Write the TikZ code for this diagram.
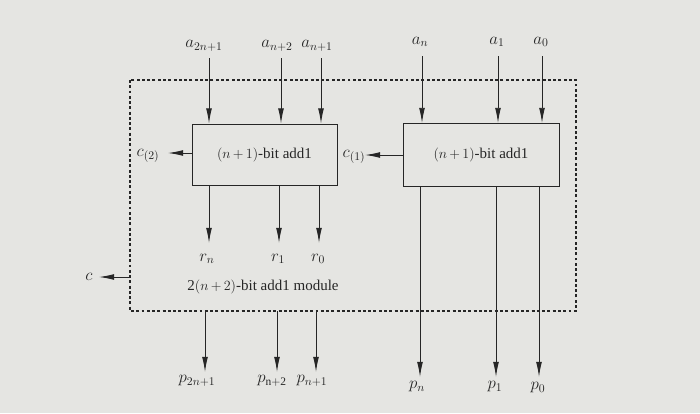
\documentclass[tikz,border=0pt]{standalone}
\usepackage{fontspec}
\setmainfont{Liberation Serif}
\usetikzlibrary{arrows.meta}
\definecolor{bg}{RGB}{229,229,226}
\definecolor{ink}{RGB}{38,38,38}
\tikzset{
  arr/.style={draw=ink, line width=0.8pt, -{Latex[length=13pt,width=5pt]}},
  addbox/.style={draw=ink, line width=0.8pt, minimum width=145*0.03cm, minimum height=61*0.03cm, inner sep=0pt},
  lbl/.style={text=ink, inner sep=1pt, font=\fontsize{14}{17}\selectfont},
  txt/.style={text=ink, inner sep=1pt, font=\fontsize{12.8}{15}\selectfont},
  dbox/.style={draw=ink, line width=0.9pt, dash pattern=on 2.5pt off 2pt}
}
\begin{document}
\begin{tikzpicture}[x=0.03cm, y=-0.03cm]
\fill[bg] (0,0) rectangle (700,413);
\useasboundingbox (0,0) rectangle (700,413);
% module
\draw[dbox] (130,80) rectangle (576,311);
\node[addbox, txt] (L) at (264.5,154.5) {$(n\,{+}\,1)$-bit add1};
\node[addbox, txt, minimum width=156*0.03cm, minimum height=63*0.03cm] (R) at (481,155) {$(n\,{+}\,1)$-bit add1};
% inputs left
\coordinate (i1) at (209,58); \coordinate (i2) at (281,58); \coordinate (i3) at (321,58);
\node[lbl] (ta1) at (204,46) {$a_{2n+1}$};
\node[lbl] (ta2) at (277,46) {$a_{n+2}$};
\node[lbl] (ta3) at (317,46) {$a_{n+1}$};
\draw[arr] (i1) -- (i1 |- L.north);
\draw[arr] (i2) -- (i2 |- L.north);
\draw[arr] (i3) -- (i3 |- L.north);
% inputs right
\coordinate (j1) at (422,56); \coordinate (j2) at (498,56); \coordinate (j3) at (542,56);
\node[lbl] (tb1) at (420,42) {$a_n$};
\node[lbl] (tb2) at (497,42) {$a_1$};
\node[lbl] (tb3) at (541,42) {$a_0$};
\draw[arr] (j1) -- (j1 |- R.north);
\draw[arr] (j2) -- (j2 |- R.north);
\draw[arr] (j3) -- (j3 |- R.north);
% carries
\coordinate (c2e) at (168,153);
\node[lbl] (c2) at (148,156) {$c_{(2)}$};
\draw[arr] (L.west |- c2e) -- (c2e);
\coordinate (c1e) at (365,155);
\node[lbl] (c1) at (354,157) {$c_{(1)}$};
\draw[arr] (R.west |- c1e) -- (c1e);
% r outputs
\coordinate (r1) at (209,243); \coordinate (r2) at (279,243); \coordinate (r3) at (319,243);
\draw[arr] (L.south -| r1) -- (r1);
\draw[arr] (L.south -| r2) -- (r2);
\draw[arr] (L.south -| r3) -- (r3);
\node[lbl] (tr1) at (207,259) {$r_n$};
\node[lbl] (tr2) at (278,259) {$r_1$};
\node[lbl] (tr3) at (318,259) {$r_0$};
\node[txt] (mod) at (263,287) {2$(n\,{+}\,2)$-bit add1 module};
% carry out
\coordinate (cs) at (130,277); \coordinate (ce) at (99,277);
\draw[arr] (cs) -- (ce);
\node[lbl] (c) at (89,277) {$c$};
% lower outputs
\coordinate (p1) at (205,311); \coordinate (p2) at (277,311); \coordinate (p3) at (316,311);
\coordinate (q1) at (205,372); \coordinate (q2) at (277,372); \coordinate (q3) at (316,372);
\draw[arr] (p1) -- (q1);
\draw[arr] (p2) -- (q2);
\draw[arr] (p3) -- (q3);
\node[lbl] (tp1) at (197,381) {$p_{2n+1}$};
\node[lbl] (tp2) at (272,381) {$p_{\mathrm{n+2}}$};
\node[lbl] (tp3) at (312,381) {$p_{n+1}$};
% right outputs
\coordinate (s1) at (420,377); \coordinate (s2) at (496,377); \coordinate (s3) at (539,377);
\draw[arr] (R.south -| s1) -- (s1);
\draw[arr] (R.south -| s2) -- (s2);
\draw[arr] (R.south -| s3) -- (s3);
\node[lbl] (tq1) at (417,387) {$p_n$};
\node[lbl] (tq2) at (495,387) {$p_1$};
\node[lbl] (tq3) at (538,388) {$p_0$};
\end{tikzpicture}
\end{document}
